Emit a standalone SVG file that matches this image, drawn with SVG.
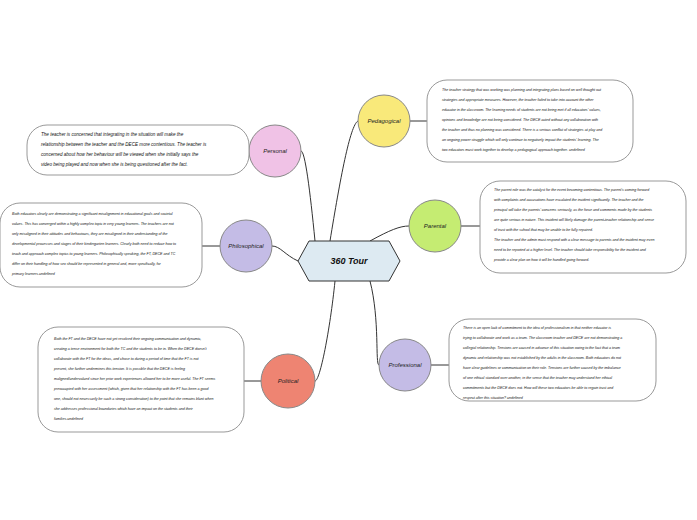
<svg xmlns="http://www.w3.org/2000/svg" width="697" height="520" viewBox="0 0 697 520">
<style>
.box{fill:#fff;stroke:#999;stroke-width:1}
.c{stroke:#888;stroke-width:1}
.ln{fill:none;stroke:#333;stroke-width:1}
.t{font-family:"Liberation Sans",Arial,sans-serif;font-size:3.6px;font-style:italic;fill:#111}
.t2{font-family:"Liberation Sans",Arial,sans-serif;font-size:4.6px;font-style:italic;fill:#111}
.lab{font-family:"Liberation Sans",Arial,sans-serif;font-size:6px;font-style:italic;fill:#222;text-anchor:middle}
</style>
<rect width="697" height="520" fill="#fff"/>
<g id="connectors">
<path class="ln" d="M330 241 C340 180,350 125,358 121"/>
<path class="ln" d="M370 241 C390 230,400 226,409 226"/>
<path class="ln" d="M370 281 C380 320,375 365,379 365"/>
<path class="ln" d="M335 281 C330 330,320 381,315 381"/>
<path class="ln" d="M298 261 C285 255,280 246,272 246"/>
<path class="ln" d="M315 241 C310 190,305 151,301 151"/>
<path class="ln" d="M410 121 H427"/>
<path class="ln" d="M461 226 H480"/>
<path class="ln" d="M431 365 H449"/>
<path class="ln" d="M220 246 H202"/>
<path class="ln" d="M261 381 H244"/>
<path class="ln" d="M249 151 H250"/>
</g>
<g id="center">
<polygon points="298,261 309,241 389,241 400,261 389,281 309,281" fill="#ddeaf2" stroke="#333" stroke-width="1"/>
<text x="349" y="264" font-family="'Liberation Sans',Arial,sans-serif" font-size="9" font-weight="bold" font-style="italic" text-anchor="middle" fill="#111">360 Tour</text>
</g>
<g id="pedagogical">
<circle class="c" cx="384" cy="121" r="26" fill="#f9e97a"/>
<text class="lab" x="384" y="123">Pedagogical</text>
<rect class="box" x="427" y="80" width="206" height="82" rx="20"/>
<text class="t" x="442" y="91">The teacher strategy that was working was planning and integrating plans based on well thought out</text>
<text class="t" x="442" y="101">strategies and appropriate measures. However, the teacher failed to take into account the other</text>
<text class="t" x="442" y="111">educator in the classroom. The learning needs of students are not being met if all educators' values,</text>
<text class="t" x="442" y="121">opinions and knowledge are not being considered. The DECE acted without any collaboration with</text>
<text class="t" x="442" y="131">the teacher and thus no planning was considered. There is a serious conflict of strategies at play and</text>
<text class="t" x="442" y="141">an ongoing power struggle which will only continue to negatively impact the students' learning. The</text>
<text class="t" x="442" y="151">two educators must work together to develop a pedagogical approach together. undefined</text>
</g>
<g id="parental">
<circle class="c" cx="435" cy="226" r="26" fill="#c5ec72"/>
<text class="lab" x="435" y="228">Parental</text>
<rect class="box" x="480" y="181" width="206" height="92" rx="20"/>
<text class="t" x="494" y="191">The parent role was the catalyst for the event becoming contentious. The parent's coming forward</text>
<text class="t" x="494" y="201">with complaints and accusations have escalated the incident significantly. The teacher and the</text>
<text class="t" x="494" y="211">principal will take the parents' concerns seriously, as the force and comments made by the students</text>
<text class="t" x="494" y="221">are quite serious in nature. This incident will likely damage the parent-teacher relationship and sense</text>
<text class="t" x="494" y="231">of trust with the school that may be unable to be fully repaired.</text>
<text class="t" x="494" y="241">The teacher and the admin must respond with a clear message to parents and the incident may even</text>
<text class="t" x="494" y="251">need to be reported at a higher level. The teacher should take responsibility for the incident and</text>
<text class="t" x="494" y="261">provide a clear plan on how it will be handled going forward.</text>
</g>
<g id="professional">
<circle class="c" cx="405" cy="365" r="26" fill="#c4bce6"/>
<text class="lab" x="405" y="367">Professional</text>
<rect class="box" x="449" y="319" width="207" height="82" rx="20"/>
<text class="t" x="463" y="329">There is an open lack of commitment to the idea of professionalism in that neither educator is</text>
<text class="t" x="463" y="339">trying to collaborate and work as a team. The classroom teacher and DECE are not demonstrating a</text>
<text class="t" x="463" y="349">collegial relationship. Tensions are caused in advance of this situation owing to the fact that a team</text>
<text class="t" x="463" y="359">dynamic and relationship was not established by the adults in the classroom. Both educators do not</text>
<text class="t" x="463" y="369">have clear guidelines or communication on their role. Tensions are further caused by the imbalance</text>
<text class="t" x="463" y="379">of one ethical standard over another, in the sense that the teacher may understand her ethical</text>
<text class="t" x="463" y="389">commitments but the DECE does not. How will these two educators be able to regain trust and</text>
<text class="t" x="463" y="399">respect after this situation? undefined</text>
</g>
<g id="philosophical">
<circle class="c" cx="246" cy="246" r="26" fill="#c4bce6"/>
<text class="lab" x="246" y="248">Philosophical</text>
<rect class="box" x="0" y="203" width="202" height="84" rx="20"/>
<text class="t" x="12" y="215">Both educators clearly are demonstrating a significant misalignment in educational goals and societal</text>
<text class="t" x="12" y="225">values. This has converged within a highly complex topic in very young learners. The teachers are not</text>
<text class="t" x="12" y="235">only misaligned in their attitudes and behaviours, they are misaligned in their understanding of the</text>
<text class="t" x="12" y="245">developmental processes and stages of their kindergarten learners. Clearly both need to reduce how to</text>
<text class="t" x="12" y="255">teach and approach complex topics to young learners. Philosophically speaking, the FT, DECE and TC</text>
<text class="t" x="12" y="265">differ on their handling of how sex should be represented in general and, more specifically, for</text>
<text class="t" x="12" y="275">primary learners.undefined</text>
</g>
<g id="political">
<circle class="c" cx="288" cy="381" r="27" fill="#ee8472"/>
<text class="lab" x="288" y="383">Political</text>
<rect class="box" x="38" y="327" width="206" height="105" rx="20"/>
<text class="t" x="54" y="340">Both the FT and the DECE have not yet resolved their ongoing communication and dynamic,</text>
<text class="t" x="54" y="350">creating a tense environment for both the TC and the students to be in. When the DECE doesn't</text>
<text class="t" x="54" y="360">collaborate with the FT for the ideas, and chose to during a period of time that the FT is not</text>
<text class="t" x="54" y="370">present, she further undermines this tension. It is possible that the DECE is feeling</text>
<text class="t" x="54" y="380">maligned/undervalued since her prior work experiences allowed her to be more useful. The FT seems</text>
<text class="t" x="54" y="390">preoccupied with her assessment (which, given that her relationship with the FT has been a good</text>
<text class="t" x="54" y="400">one, should not necessarily be such a strong consideration) to the point that she remains blunt when</text>
<text class="t" x="54" y="410">she addresses professional boundaries which have an impact on the students and their</text>
<text class="t" x="54" y="420">families.undefined</text>
</g>
<g id="personal">
<circle class="c" cx="275" cy="151" r="26" fill="#f0c2e6"/>
<text class="lab" x="275" y="153">Personal</text>
<rect class="box" x="27" y="125" width="222" height="50" rx="20"/>
<text class="t2" x="41" y="136">The teacher is concerned that integrating in the situation will make the</text>
<text class="t2" x="41" y="146">relationship between the teacher and the DECE more contentious. The teacher is</text>
<text class="t2" x="41" y="156">concerned about how her behaviour will be viewed when she initially says the</text>
<text class="t2" x="41" y="166">video being played and now when she is being questioned after the fact.</text>
</g>
</svg>
